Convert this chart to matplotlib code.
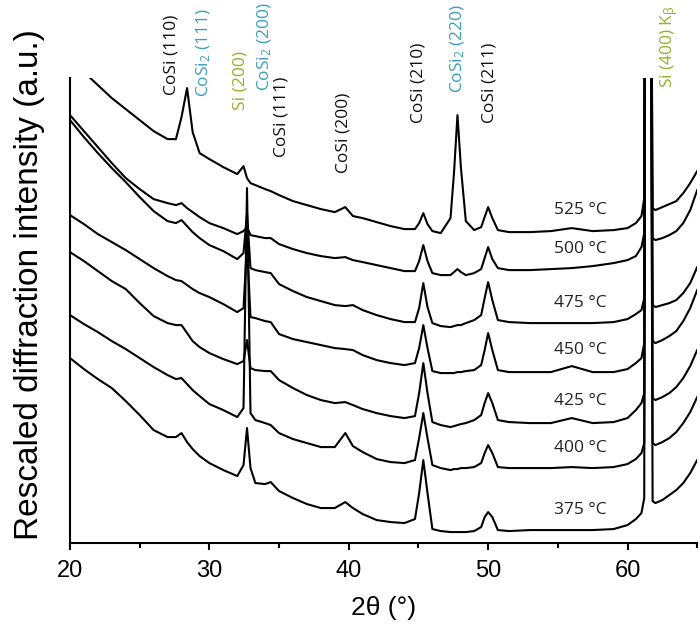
import numpy as np
import matplotlib
matplotlib.use('Agg')
import matplotlib.pyplot as plt
from matplotlib.ticker import MultipleLocator

# 2theta grid (deg) shared by all patterns
two_theta = [20, 21, 22, 23, 24, 25, 26, 27, 27.6, 28.0, 28.4, 28.8, 29.3,
             30, 31, 32, 32.45, 32.7, 32.95, 33.3, 34, 34.4, 35, 36, 37, 38, 39,
             39.75, 40.3, 41, 42, 43, 44, 44.75, 45.05, 45.35, 45.65, 46.0, 46.6,
             47.3, 47.55, 47.8, 48.05, 48.4, 49.0, 49.5, 49.75, 50.0, 50.3, 50.7,
             51.5, 53, 54.5, 56, 57.5, 59, 60, 60.6, 61.0, 61.2, 61.3, 61.6, 61.8,
             62.0, 62.5, 63, 63.5, 64, 64.5, 65]

temperatures = [525, 500, 475, 450, 425, 400, 375]

# rescaled (stacked) intensities
i_525 = [485, 471, 458, 445, 434, 423, 412, 404, 404, 426, 455, 411, 390,
         384, 376, 369, 377, 365, 360, 358, 354, 352, 348, 342, 338, 334, 331,
         336, 327, 325, 321, 317, 314, 314, 320, 330, 319, 312, 310,
         325, 370, 428, 375, 322, 313, 316, 326, 336, 325, 313,
         311, 311, 312, 315, 312, 313, 315, 320, 327, 345, 900, 900, 335,
         333, 336, 339, 342, 350, 360, 372]
i_500 = [428, 412, 396, 380, 365, 354, 344, 340, 338, 340, 335, 331, 326,
         320, 315, 309, 312, 316, 308, 307, 305, 305, 299, 294, 290, 287, 285,
         286, 283, 281, 278, 275, 272, 272, 282, 298, 282, 270, 268,
         268, 271, 274, 271, 268, 270, 274, 285, 296, 284, 275,
         273, 273, 274, 275, 277, 280, 283, 287, 296, 310, 900, 900, 305,
         303, 305, 308, 312, 320, 333, 353]
i_475 = [423, 406, 390, 375, 361, 346, 332, 322, 320, 323, 317, 311, 305,
         298, 292, 284, 290, 330, 275, 273, 271, 270, 259, 252, 246, 242, 238,
         237, 238, 233, 228, 224, 221, 221, 235, 260, 236, 220, 217,
         216, 217, 218, 218, 220, 223, 228, 245, 261, 243, 223,
         221, 220, 220, 220, 220, 221, 224, 229, 233, 245, 900, 900, 238,
         236, 238, 240, 243, 250, 260, 276]
i_450 = [328, 319, 309, 301, 293, 284, 275, 267, 263, 262, 258, 254, 250,
         246, 239, 231, 235, 300, 226, 225, 222, 221, 209, 204, 201, 198, 195,
         194, 193, 188, 183, 180, 178, 180, 195, 218, 195, 172, 170,
         170, 170, 171, 171, 172, 173, 178, 193, 210, 193, 173,
         171, 171, 171, 177, 171, 171, 174, 180, 185, 200, 900, 900, 202,
         200, 203, 207, 212, 222, 235, 253]
i_425 = [291, 282, 272, 262, 254, 240, 227, 220, 218, 218, 210, 202, 196,
         190, 184, 179, 182, 203, 175, 173, 172, 172, 163, 155, 148, 143, 140,
         141, 138, 134, 130, 127, 125, 127, 150, 180, 150, 121, 118,
         116, 117, 118, 119, 120, 123, 128, 140, 150, 140, 123,
         121, 120, 120, 125, 120, 121, 125, 133, 140, 150, 900, 900, 145,
         143, 146, 150, 156, 165, 177, 193]
i_400 = [228, 219, 211, 202, 194, 185, 176, 168, 164, 165, 159, 153, 147,
         139, 133, 126, 135, 355, 130, 123, 120, 118, 110, 104, 100, 96, 96,
         110, 97, 91, 84, 81, 80, 83, 105, 130, 105, 78, 75,
         73, 74, 74, 75, 75, 76, 80, 90, 98, 90, 76,
         75, 75, 75, 76, 75, 76, 79, 84, 90, 100, 900, 900, 100,
         98, 101, 105, 111, 120, 131, 146]
i_375 = [185, 174, 164, 155, 142, 128, 113, 106, 106, 110, 101, 94, 87,
         80, 73, 67, 78, 115, 75, 60, 59, 61, 52, 45, 39, 35, 35,
         41, 35, 29, 23, 21, 20, 24, 50, 83, 50, 14, 12,
         11, 11, 11, 11, 11, 12, 16, 26, 31, 26, 13,
         12, 13, 13, 13, 13, 14, 18, 24, 30, 45, 900, 900, 42,
         40, 43, 48, 53, 60, 70, 83]

patterns = [i_525, i_500, i_475, i_450, i_425, i_400, i_375]

# reflection labels
peak_labels = ['CoSi (110)', r'CoSi$_\mathregular{2}$ (111)', 'Si (200)',
               r'CoSi$_\mathregular{2}$ (200)', 'CoSi (111)', 'CoSi (200)',
               'CoSi (210)', r'CoSi$_\mathregular{2}$ (220)', 'CoSi (211)',
               r'Si (400) K$_\mathregular{β}$']
peak_label_x = [27.3, 29.6, 32.2, 34.0, 35.2, 39.6, 45.0, 47.8, 50.1, 63.0]
peak_label_y = [448, 446, 433, 452, 386, 370, 420, 450, 420, 455]
peak_colors = ['black', 'teal', 'olive', 'teal', 'black', 'black',
               'black', 'teal', 'black', 'olive']

color_map = {'black': '#111111', 'teal': '#3b9fbc', 'olive': '#9aad2c'}

plt.rcParams['font.family'] = ['Liberation Sans', 'DejaVu Sans']
plt.rcParams['mathtext.fontset'] = 'custom'
plt.rcParams['mathtext.rm'] = 'Open Sans'
plt.rcParams['mathtext.it'] = 'Open Sans:italic'
plt.rcParams['mathtext.bf'] = 'Open Sans:bold'

fig = plt.figure(figsize=(7, 6.3), dpi=100)
ax = fig.add_axes([0.1, 0.138, 0.896, 0.738])

for temp, inten in zip(temperatures, patterns):
    ax.plot(two_theta, inten, color='black', lw=1.5)
    # temperature tag sits just above the flat part of each pattern
    y_tag = np.interp(55, two_theta, inten) + 20
    ax.text(54.7, y_tag, f'{temp} °C', fontsize=12.5, family='Open Sans',
            color='#222222', ha='left', va='center')

for lab, x, y, c in zip(peak_labels, peak_label_x, peak_label_y, peak_colors):
    ax.text(x, y, lab, rotation=90, ha='center', va='bottom', fontsize=12.5,
            family='Open Sans', color=color_map[c], clip_on=False)

ax.set_xlim(20, 65)
ax.set_ylim(0, 465)
ax.set_yticks([])
ax.spines['top'].set_visible(False)
ax.spines['right'].set_visible(False)
ax.spines['left'].set_linewidth(1.5)
ax.spines['bottom'].set_linewidth(1.5)

ax.xaxis.set_major_locator(MultipleLocator(10))
ax.xaxis.set_minor_locator(MultipleLocator(5))
ax.tick_params(axis='x', which='major', direction='out', length=5, width=1.5,
               labelsize=17, pad=7)
ax.tick_params(axis='x', which='minor', direction='out', length=3.5, width=1.5)

ax.set_xlabel('2θ (°)', fontsize=19, labelpad=10)
ax.set_ylabel('Rescaled diffraction intensity (a.u.)', fontsize=24)
ax.yaxis.set_label_coords(-0.04, 0.555)

plt.savefig('out.png', dpi=100)
